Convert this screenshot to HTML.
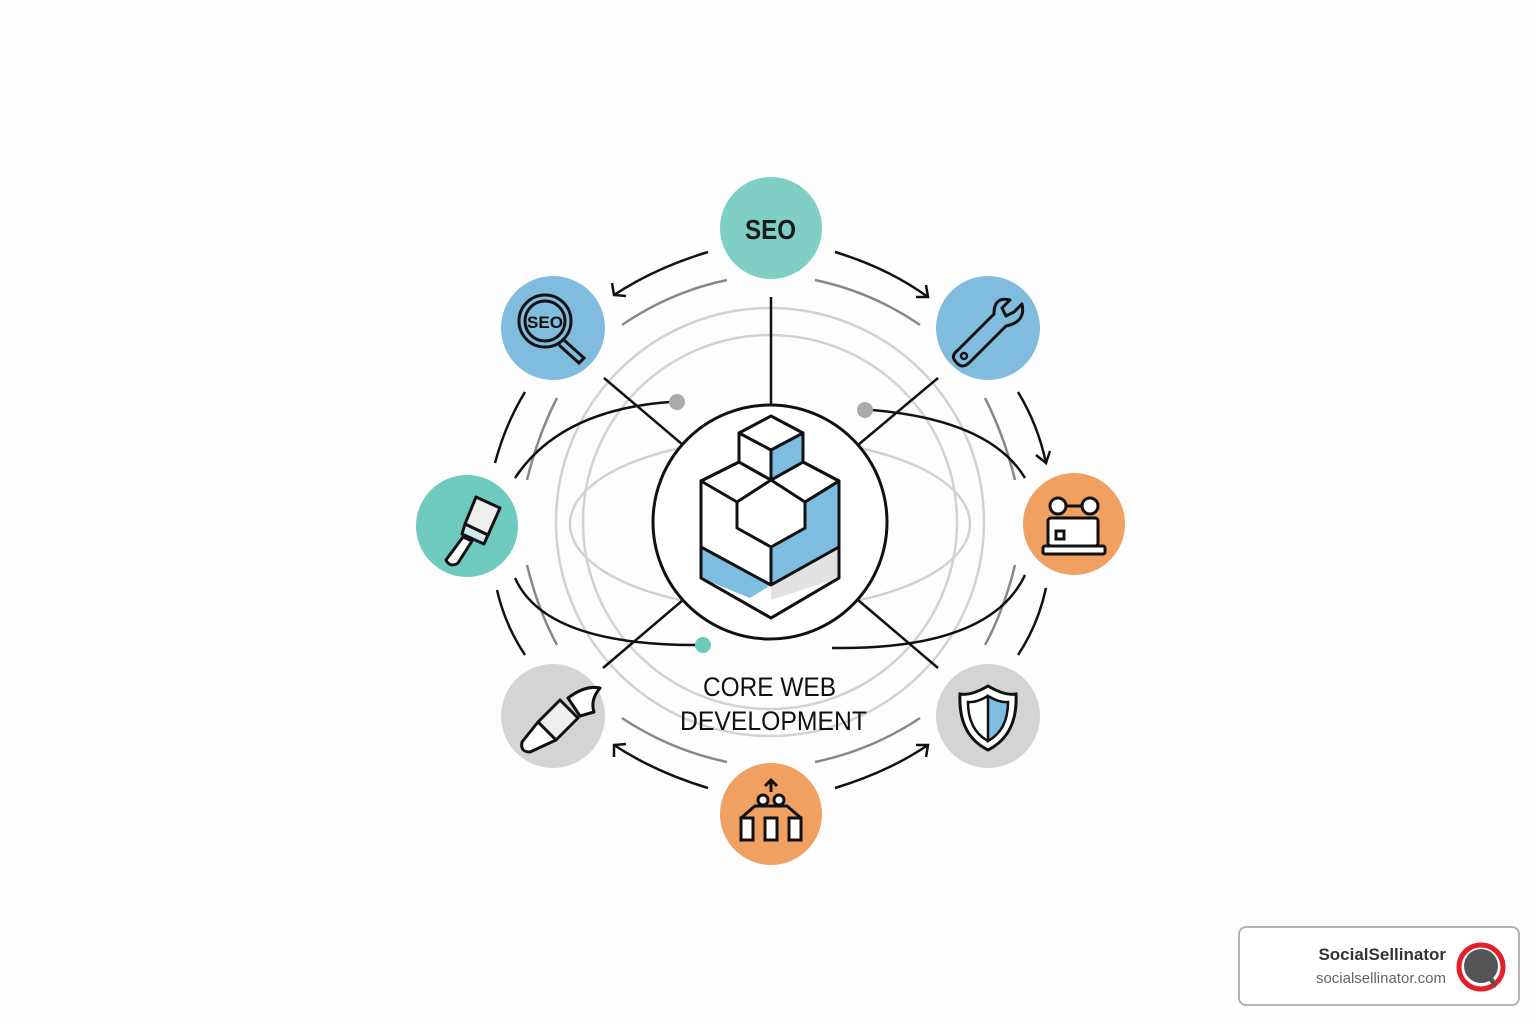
<!DOCTYPE html>
<html><head><meta charset="utf-8"><style>
html,body{margin:0;padding:0;background:#fdfdfd;width:1536px;height:1024px;overflow:hidden}
svg{position:absolute;left:0;top:0}
.badge{position:absolute;left:1238px;top:926px;width:282px;height:80px;border:2px solid #b4b4b4;border-radius:8px;background:#fff;box-sizing:border-box;font-family:"Liberation Sans",sans-serif}
.b1{position:absolute;right:72px;top:17px;font-size:17px;font-weight:bold;color:#333}
.b2{position:absolute;right:72px;top:42px;font-size:15px;color:#666}
</style></head><body>
<svg width="1536" height="1024" viewBox="0 0 1536 1024" font-family="Liberation Sans, sans-serif">
<g fill="none" stroke="#d2d2d2" stroke-width="2.5">
<circle cx="770" cy="522" r="214"/>
<circle cx="770" cy="522" r="187"/>
<ellipse cx="770" cy="524" rx="200" ry="85"/>
</g>
<g fill="none" stroke="#888" stroke-width="2.5">
<path d="M622 325 Q670 292 727 280"/><path d="M815 280 Q872 292 920 325"/>
<path d="M557 398 Q538 435 527 480"/><path d="M985 398 Q1004 435 1015 480"/>
<path d="M527 565 Q538 610 557 645"/><path d="M1015 565 Q1004 610 985 645"/>
<path d="M622 718 Q670 750 727 762"/><path d="M815 762 Q872 750 920 718"/>
</g>
<g fill="none" stroke="#111" stroke-width="2.5">
<path d="M708 252 Q655 268 614 295"/><path d="M612 283 L614 295 L626 296"/>
<path d="M835 252 Q888 268 928 297"/><path d="M916 297 L928 297 L926 285"/>
<path d="M1018 392 Q1038 425 1046 463"/><path d="M1036 455 L1046 463 L1050 451"/>
<path d="M708 788 Q655 772 614 745"/><path d="M614 757 L614 745 L626 744"/>
<path d="M835 788 Q888 772 928 745"/><path d="M916 745 L928 745 L926 757"/>
<path d="M525 392 Q505 425 495 463"/><path d="M497 590 Q505 625 525 655"/>
<path d="M1046 588 Q1038 625 1018 655"/>
<line x1="771" y1="297" x2="771" y2="404"/>
<line x1="604" y1="378" x2="683" y2="445"/><line x1="938" y1="378" x2="858" y2="445"/>
<line x1="603" y1="668" x2="683" y2="600"/><line x1="938" y1="668" x2="858" y2="600"/>
<path d="M670 402 Q560 410 515 478"/>
<path d="M872 410 Q990 420 1025 478"/>
<path d="M515 578 Q545 645 696 645"/>
<path d="M832 648 Q990 650 1025 575"/>
</g>
<circle cx="677" cy="402" r="8" fill="#aaa"/>
<circle cx="865" cy="410" r="8" fill="#aaa"/>
<circle cx="703" cy="645" r="8" fill="#6cc9be"/>
<circle cx="770" cy="522" r="117" fill="#fff" stroke="#111" stroke-width="3"/>
<g stroke="#111" stroke-width="3" stroke-linejoin="round">
<path d="M701 481 L739 462 L771 480 L803 462 L839 481 L839 578 L771 618 L701 578 Z" fill="#fff"/>
<path d="M805 502 L839 481 L839 547 L771 585 L771 547 L805 528 Z" fill="#7dbde0"/>
<path d="M701 547 L771 585 L750 598 L701 578 Z" fill="#7dbde0" stroke="none"/>
<path d="M771 585 L839 547 L839 578 L771 600 Z" fill="#e2e2e2" stroke="none"/>
<path d="M701 481 L739 462 L771 480 L803 462 L839 481 L839 578 L771 618 L701 578 Z" fill="none"/>
<path d="M771 480 L737 502 L737 528 L771 547 L805 528 L805 502 Z" fill="#fff"/>
<path d="M701 481 L737 502 M805 502 L839 481 M771 547 L771 585 M701 547 L771 585 L839 547" fill="none"/>
<path d="M771 416 L803 433 L803 462 L771 480 L739 462 L739 433 Z" fill="#fff"/>
<path d="M771 450 L803 433 L803 462 L771 480 Z" fill="#7dbde0"/>
<path d="M739 433 L771 450 L771 480" fill="none"/>
</g>
<text x="703" y="696" font-size="27" textLength="133" lengthAdjust="spacingAndGlyphs" fill="#111">CORE WEB</text>
<text x="680" y="730" font-size="27" textLength="187" lengthAdjust="spacingAndGlyphs" fill="#111">DEVELOPMENT</text>
<circle cx="771" cy="228" r="51" fill="#7fcfc4"/>
<text x="745" y="239" font-size="28" font-weight="bold" textLength="51" lengthAdjust="spacingAndGlyphs" fill="#1a1a1a">SEO</text>
<circle cx="553" cy="328" r="52" fill="#80bcdd"/>
<g stroke="#111" stroke-width="3" fill="none">
<circle cx="545" cy="321" r="26"/><circle cx="545" cy="321" r="20"/>
<path d="M564 340 L584 358 L579 363 L559 345"/>
</g>
<text x="545" y="328" font-size="17" font-weight="bold" text-anchor="middle" fill="#111">SEO</text>
<circle cx="988" cy="328" r="52" fill="#80bcdd"/>
<path d="M1010 300 l-8 8 l4 8 l8 -4 l8 -8 q4 18 -16 22 l-36 36 q-8 8 -14 0 q-6 -6 2 -12 l36 -36 q0 -18 16 -14z" fill="#80bcdd" stroke="#111" stroke-width="3" stroke-linejoin="round"/>
<circle cx="964" cy="356" r="3" fill="none" stroke="#111" stroke-width="2.5"/>
<circle cx="467" cy="526" r="51" fill="#6ecabe"/>
<g stroke="#111" stroke-width="3" stroke-linejoin="round">
<path d="M476 497 L500 508 L488 535 L465 524 Z" fill="#eee"/>
<path d="M465 524 L488 535 L484 544 L462 534 Z" fill="#cfe9ee"/>
<path d="M463 537 L472 541 L458 563 Q450 568 446 560 Z" fill="#fff"/>
</g>
<circle cx="1074" cy="524" r="51" fill="#f0a060"/>
<g stroke="#111" stroke-width="3" fill="#fff">
<rect x="1048" y="518" width="50" height="28" rx="3"/>
<rect x="1043" y="546" width="62" height="8" rx="2"/>
<circle cx="1058" cy="506" r="8"/><circle cx="1090" cy="506" r="8"/>
<line x1="1066" y1="506" x2="1082" y2="506"/>
<rect x="1056" y="531" width="8" height="8"/>
</g>
<circle cx="553" cy="716" r="52" fill="#d4d4d4"/>
<g stroke="#111" stroke-width="3" stroke-linejoin="round" fill="#fff">
<path d="M560 700 L578 718 L556 740 L538 722 Z" fill="#eee"/>
<path d="M538 722 L556 740 L530 752 Q520 752 522 742 Z"/>
<path d="M568 698 Q585 685 600 688 Q590 700 594 712 L580 716 Z"/>
</g>
<circle cx="988" cy="716" r="52" fill="#d4d4d4"/>
<path d="M988 686 Q1005 696 1016 694 Q1018 735 988 750 Q958 735 960 694 Q971 696 988 686 Z" fill="#fff" stroke="#111" stroke-width="3"/>
<path d="M988 696 Q1000 703 1008 702 Q1008 730 988 741 Z" fill="#7dbde0" stroke="#111" stroke-width="2.5"/>
<path d="M988 696 Q976 703 968 702 Q968 730 988 741" fill="none" stroke="#111" stroke-width="2.5"/>
<circle cx="771" cy="814" r="51" fill="#f0a060"/>
<g stroke="#111" stroke-width="3" fill="#fff">
<rect x="741" y="818" width="12" height="22"/><rect x="765" y="818" width="12" height="22"/><rect x="789" y="818" width="12" height="22"/>
<path d="M741 818 L755 806 L787 806 L801 818" fill="none"/>
<circle cx="763" cy="800" r="5"/><circle cx="779" cy="800" r="5"/>
<path d="M771 792 L771 780 M765 786 L771 780 L777 786" fill="none"/>
</g>
</svg>
<div class="badge"><div class="b1">SocialSellinator</div><div class="b2">socialsellinator.com</div>
<svg width="56" height="56" style="left:214px;top:12px" viewBox="0 0 56 56"><circle cx="27" cy="27" r="22" fill="none" stroke="#e21f2c" stroke-width="5"/><circle cx="27" cy="26" r="17" fill="#555"/><path d="M34 40 l8 8 l-2 -10z" fill="#555"/></svg>
</div>
</body></html>
